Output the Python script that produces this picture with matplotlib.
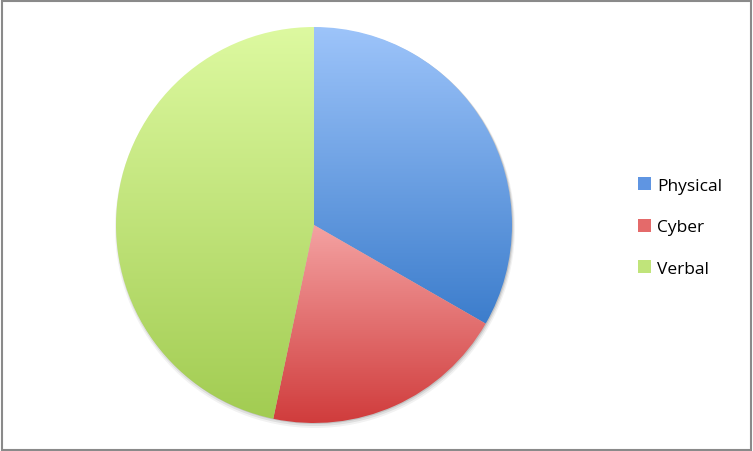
import numpy as np
import matplotlib
matplotlib.use("Agg")
import matplotlib.pyplot as plt
from matplotlib.colors import LinearSegmentedColormap
from matplotlib.patches import Patch, Rectangle, Circle

# Data
labels = ["Physical", "Cyber", "Verbal"]
values = [33.3, 20.0, 46.7]
top_colors = ["#9dc4fa", "#f4a2a2", "#ddf9a0"]
bottom_colors = ["#3c7dcc", "#d03c3c", "#a2cc52"]
legend_colors = ["#5f95e2", "#e46a6a", "#c0e47a"]

W, H = 753, 452
fig = plt.figure(figsize=(W / 100, H / 100), dpi=100)
ax = fig.add_axes([0, 0, 1, 1])

cx, cy, r = 314, H - 226, 198

# soft shadow under the pie
for i, a in enumerate([0.05, 0.08, 0.12]):
    ax.add_patch(Circle((cx + 1, cy - 3 + i), r + 2 - i, color="#000000", alpha=a, lw=0, zorder=0))

wedges, _ = ax.pie(values, center=(cx, cy), radius=r, startangle=90,
                   counterclock=False, wedgeprops=dict(linewidth=0))

# vertical gradient fill, clipped to each wedge
for w, c_top, c_bot in zip(wedges, top_colors, bottom_colors):
    w.set_facecolor("none")
    w.set_zorder(1)
    ext = w.get_path().get_extents(w.get_patch_transform())
    cmap = LinearSegmentedColormap.from_list("g", [c_bot, c_top])
    grad = np.linspace(0, 1, 256).reshape(-1, 1)
    im = ax.imshow(grad, cmap=cmap, origin="lower", aspect="auto",
                   extent=[ext.x0, ext.x1, ext.y0, ext.y1], zorder=1,
                   interpolation="bilinear")
    im.set_clip_path(w)

ax.set_xlim(0, W)
ax.set_ylim(0, H)
ax.set_aspect("auto")
ax.axis("off")

handles = [Patch(facecolor=c, edgecolor="none") for c in legend_colors]
ax.legend(handles, labels, loc="center left", bbox_to_anchor=(638 / W, 1 - 228 / H),
          bbox_transform=fig.transFigure, frameon=False,
          prop={"family": "Open Sans", "size": 12.5},
          handlelength=0.75, handleheight=0.75, handletextpad=0.35,
          labelspacing=1.45, borderpad=0, borderaxespad=0)

# outer grey frame
fig.patches.append(Rectangle((1.5 / W, 1.5 / H), 1 - 3.5 / W, 1 - 3.5 / H,
                             transform=fig.transFigure, fill=False,
                             edgecolor="#8a8a8a", linewidth=1.5))

fig.savefig("out.png", dpi=100)
